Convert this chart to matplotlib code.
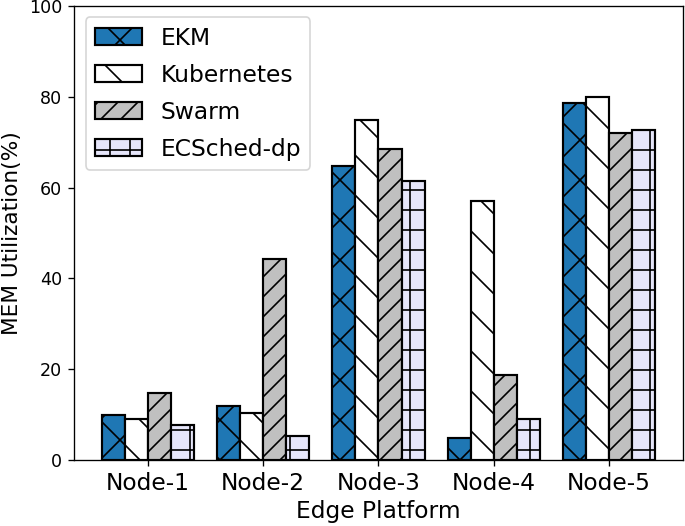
import numpy as np
import matplotlib
matplotlib.use("Agg")
import matplotlib.pyplot as plt

nodes = ["Node-1", "Node-2", "Node-3", "Node-4", "Node-5"]
ekm = [9.9, 12.0, 64.7, 4.8, 78.7]
kubernetes = [9.0, 10.5, 74.8, 57.0, 80.0]
swarm = [14.7, 44.2, 68.5, 18.8, 72.0]
ecsched = [7.8, 5.3, 61.5, 9.0, 72.7]

series = [
    ("EKM", ekm, "#1f77b4", "x"),
    ("Kubernetes", kubernetes, "white", "\\"),
    ("Swarm", swarm, "#c0c0c0", "//"),
    ("ECSched-dp", ecsched, "#e6e6fa", "+"),
]

plt.rcParams["hatch.linewidth"] = 1.0

fig, ax = plt.subplots(figsize=(685 / 120, 526 / 120), dpi=120)
fig.subplots_adjust(left=0.108, right=0.997, top=0.989, bottom=0.125)

x = np.arange(len(nodes))
w = 0.2
for i, (name, vals, color, hatch) in enumerate(series):
    ax.bar(x + (i - 1.5) * w, vals, w, color=color, edgecolor="black",
           linewidth=1.3, hatch=hatch, label=name)

ax.set_xticks(x)
ax.set_xticklabels(nodes, fontsize=14)
ax.tick_params(axis="y", labelsize=10.5)
ax.set_ylim(0, 100)
ax.set_xlabel("Edge Platform", fontsize=14, labelpad=3)
ax.set_ylabel("MEM Utilization(%)", fontsize=13)
ax.legend(loc="upper left", fontsize=14, labelspacing=0.6)

fig.savefig("out.png")
